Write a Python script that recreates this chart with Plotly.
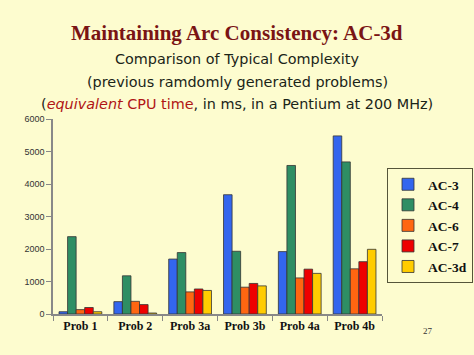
import plotly.graph_objects as go

categories = ["Prob 1", "Prob 2", "Prob 3a", "Prob 3b", "Prob 4a", "Prob 4b"]
series_names = ["AC-3", "AC-4", "AC-6", "AC-7", "AC-3d"]
ac3 = [70, 380, 1690, 3670, 1920, 5480]
ac4 = [2380, 1175, 1890, 1930, 4570, 4680]
ac6 = [135, 390, 680, 825, 1110, 1390]
ac7 = [200, 290, 770, 940, 1380, 1610]
ac3d = [70, 30, 725, 865, 1250, 1990]
y_ticks = [0, 1000, 2000, 3000, 4000, 5000, 6000]

colors = ["#3366EE", "#2E8E64", "#FF6611", "#EE0000", "#FFCC00"]
values = [ac3, ac4, ac6, ac7, ac3d]

bg = "#FDFCCF"
fig = go.Figure()
for name, vals, c in zip(series_names, values, colors):
    fig.add_trace(go.Bar(name="<b>" + name + "</b>", x=categories, y=vals,
                         marker=dict(color=c, line=dict(color="#333333", width=0.8))))

fig.update_layout(
    width=474, height=355,
    paper_bgcolor=bg, plot_bgcolor=bg,
    margin=dict(l=53, r=92, t=119, b=41, autoexpand=False),
    barmode="group", bargap=0.22, bargroupgap=0,
    showlegend=True,
    legend=dict(x=(387 - 53) / 329, xanchor="left", y=1 - (168 - 119) / 195, yanchor="top",
                bgcolor=bg, bordercolor="#55553A", borderwidth=1,
                font=dict(family="Liberation Serif", size=13.5, color="#111111"),
                itemwidth=30, tracegroupgap=0),
    xaxis=dict(showline=True, linecolor="#888888", linewidth=1.5,
               ticks="outside", tickson="boundaries", ticklen=5, tickcolor="#888888",
               tickfont=dict(family="Liberation Serif", size=12, color="#111111"),
               tickvals=categories, ticktext=["<b>" + c + "</b>" for c in categories],
               showgrid=False),
    yaxis=dict(range=[0, 6000], tickvals=y_ticks, showline=True, linecolor="#888888", linewidth=1.5,
               ticks="outside", ticklen=5, tickcolor="#888888",
               tickfont=dict(family="Liberation Sans", size=9, color="#333333"),
               showgrid=False, zeroline=False),
    font=dict(family="Liberation Sans"),
)

anns = [
    dict(text="<b>Maintaining Arc Consistency: AC-3d</b>", y=33, size=21, family="Liberation Serif", color="#7A1414"),
    dict(text="Comparison of Typical Complexity", y=59, size=14.4, family="DejaVu Sans", color="#1A2418"),
    dict(text="(previous ramdomly generated problems)", y=82, size=14.4, family="DejaVu Sans", color="#1A2418"),
    dict(text="(<span style='color:#B01515'><i>equivalent</i> CPU time</span>, in ms, in a Pentium at 200 MHz)", y=104, size=14.4, family="DejaVu Sans", color="#1A2418"),
]
for a in anns:
    fig.add_annotation(text=a["text"], xref="paper", yref="paper", x=0.5 * 474 / 329 - 53 / 329, xanchor="center",
                       y=1 + (119 - a["y"]) / 195, yanchor="middle", showarrow=False,
                       font=dict(family=a["family"], size=a["size"], color=a["color"]))
fig.add_annotation(text="27", xref="paper", yref="paper", x=(428 - 53) / 329, xanchor="center",
                   y=-(331 - 314) / 195, yanchor="middle", showarrow=False,
                   font=dict(family="Liberation Serif", size=9, color="#333333"))

fig.write_html("out.html", config={"displayModeBar": False},
               post_script="document.body.style.margin='0';document.body.style.background='" + bg + "';")
